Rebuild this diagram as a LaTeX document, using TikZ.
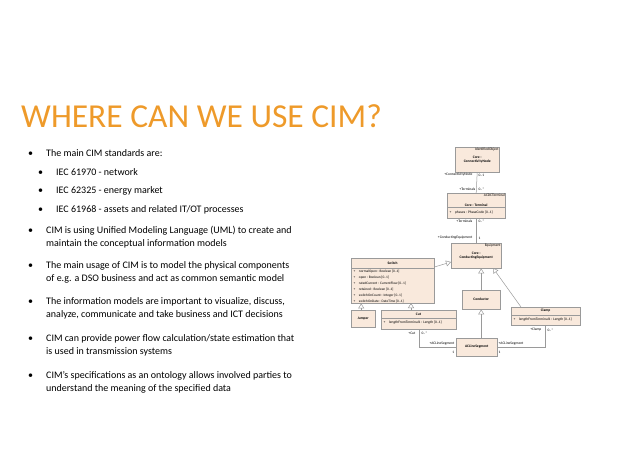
\documentclass[tikz,border=0pt]{standalone}
\usepackage{fontspec}
\setmainfont{Carlito}
\usetikzlibrary{arrows.meta}
\definecolor{org}{HTML}{EE9A2A}
\definecolor{umlf}{HTML}{F9E9DC}
\definecolor{umld}{HTML}{9A9A9A}
\tikzset{
 cls/.style={draw=umld,fill=umlf,inner sep=0pt,anchor=north west},
 tiny/.style={font=\fontsize{3.6}{4}\selectfont,inner sep=0.5pt},
 btxt/.style={anchor=west,font=\fontsize{10}{13}\selectfont,align=left,inner sep=0pt},
 gen/.style={draw=umld,-{Triangle[open,length=5pt,width=6pt]},line width=0.5pt},
 assoc/.style={draw=umld,line width=0.5pt}
}
\newcommand{\cbox}[6]{% name,x,y,w,h,text
 \node[cls,minimum width=#4pt,minimum height=#5pt] (#1) at (#2,#3) {};
 \node[tiny,align=center,font=\fontsize{3.6}{4.5}\selectfont\bfseries] at ([yshift=-#5pt/2]#1.north) {#6};}
\begin{document}
\begin{tikzpicture}[x=1pt,y=-1pt]
\useasboundingbox (0,0) rectangle (638,451);
\node[anchor=west,text=org,font=\fontsize{33.5}{38}\selectfont,inner sep=0pt] (title) at (21,116) {WHERE CAN WE USE CIM?};
\node[btxt] (b1) at (28,153) {•\hspace{13pt}The main CIM standards are:};
\node[btxt] (s1) at (38,172) {•\hspace{13pt}IEC 61970 - network};
\node[btxt] (s2) at (38,191) {•\hspace{13pt}IEC 62325 - energy market};
\node[btxt] (s3) at (38,210) {•\hspace{13pt}IEC 61968 - assets and related IT/OT processes};
\node[btxt,anchor=north west] (b2) at (28,226) {•\hspace{13pt}\parbox[t]{270pt}{CIM is using Unified Modeling Language (UML) to create and\\maintain the conceptual information models}};
\node[btxt,anchor=north west] (b3) at (28,261) {•\hspace{13pt}\parbox[t]{270pt}{The main usage of CIM is to model the physical components\\of e.g. a DSO business and act as common semantic model}};
\node[btxt,anchor=north west] (b4) at (28,297) {•\hspace{13pt}\parbox[t]{270pt}{The information models are important to visualize, discuss,\\analyze, communicate and take business and ICT decisions}};
\node[btxt,anchor=north west] (b5) at (28,334) {•\hspace{13pt}\parbox[t]{270pt}{CIM can provide power flow calculation/state estimation that\\is used in transmission systems}};
\node[btxt,anchor=north west] (b6) at (28,371) {•\hspace{13pt}\parbox[t]{270pt}{CIM’s specifications as an ontology allows involved parties to\\understand the meaning of the specified data}};
% UML
\cbox{cn}{455}{147}{44}{25}{Core :\\ConnectivityNode}
\node[tiny,anchor=north east] at (cn.north east) {IdentifiedObject};
\cbox{te}{447}{193}{58}{25}{Core : Terminal}
\node[tiny,anchor=north east] at (te.north east) {ACDCTerminal};
\draw[umld,line width=0.3pt] (447,207)--(505,207);
\node[tiny,anchor=west] at (449,212) {+\quad phases : PhaseCode [0..1]};
\cbox{ce}{451}{243}{50}{25}{Core :\\ConductingEquipment};
\node[tiny,anchor=north east] at (ce.north east) {Equipment};
\node[cls,minimum width=83pt,minimum height=45pt] (sw) at (351,258) {};
\node[tiny,font=\fontsize{3.6}{4}\selectfont\bfseries] at (392.5,263) {Switch};
\draw[umld,line width=0.3pt] (351,268)--(434,268);
\node[tiny,anchor=north west,align=left,font=\fontsize{3.5}{6}\selectfont] at (353,269) {+\quad normalOpen : Boolean [0..1]\\+\quad open : Boolean [0..1]\\+\quad ratedCurrent : CurrentFlow [0..1]\\+\quad retained : Boolean [0..1]\\+\quad switchOnCount : Integer [0..1]\\+\quad switchOnDate : DateTime [0..1]};
\cbox{ju}{351}{310}{24}{17}{Jumper}
\node[cls,minimum width=75pt,minimum height=19pt] (cu) at (381,310) {};
\node[tiny,font=\fontsize{3.6}{4}\selectfont\bfseries] at (418.5,314) {Cut};
\draw[umld,line width=0.3pt] (381,318)--(456,318);
\node[tiny,anchor=west] at (383,323) {+\quad lengthFromTerminal1 : Length [0..1]};
\cbox{co}{462}{290}{38}{19}{Conductor}
\node[cls,minimum width=69pt,minimum height=18pt] (cl) at (511,307) {};
\node[tiny,font=\fontsize{3.6}{4}\selectfont\bfseries] at (545.5,311) {Clamp};
\draw[umld,line width=0.3pt] (511,315)--(580,315);
\node[tiny,anchor=west] at (513,320) {+\quad lengthFromTerminal1 : Length [0..1]};
\cbox{ac}{456}{338}{41}{18}{ACLineSegment}
% connectors
\draw[assoc] (cn.south) -- (te.north);
\node[tiny,anchor=east] at (473,175) {+ConnectivityNode};
\node[tiny,anchor=west] at (478,175) {0..1};
\node[tiny,anchor=east] at (476,189) {+Terminals};
\node[tiny,anchor=west] at (478,189) {0..*};
\draw[assoc] (te.south) -- (ce.north);
\node[tiny,anchor=east] at (473,221) {+Terminals};
\node[tiny,anchor=west] at (478,221) {0..*};
\node[tiny,anchor=east] at (473,238) {+ConductingEquipment};
\node[tiny,anchor=west] at (478,238) {1};
\draw[gen] (sw.east |- 0,267) -- (ce.west |- 0,262);
\draw[gen] (co.north) -- (ce.south -| co.north);
\draw[gen] (cl.north west) ++(10,0) coordinate (clp) -- (493,268);
\draw[gen] (ju.north) ++(-2,0) coordinate (jup) -- ([xshift=-2pt]sw.south -| ju.north);
\draw[gen] (cu.north -| 411,0) coordinate (cup) -- (411,303);
\draw[gen] (ac.north -| co.north) -- (co.south);
\coordinate (cuc) at (419,347);
\draw[assoc] (cu.south -| cuc) -- (cuc) -- (ac.west |- cuc);
\coordinate (clc) at (545,347);
\draw[assoc] (cl.south -| clc) -- (clc) -- (ac.east |- clc);
\node[tiny,anchor=east] at (416,333) {+Cut};
\node[tiny,anchor=west] at (421,333) {0..*};
\node[tiny,anchor=east] at (542,330) {+Clamp};
\node[tiny,anchor=west] at (547,330) {0..*};
\node[tiny,anchor=east] at (455,344) {+ACLineSegment};
\node[tiny,anchor=west] at (498,344) {+ACLineSegment};
\node[tiny,anchor=east] at (455,352) {1};
\node[tiny,anchor=west] at (498,352) {1};
\end{tikzpicture}
\end{document}
